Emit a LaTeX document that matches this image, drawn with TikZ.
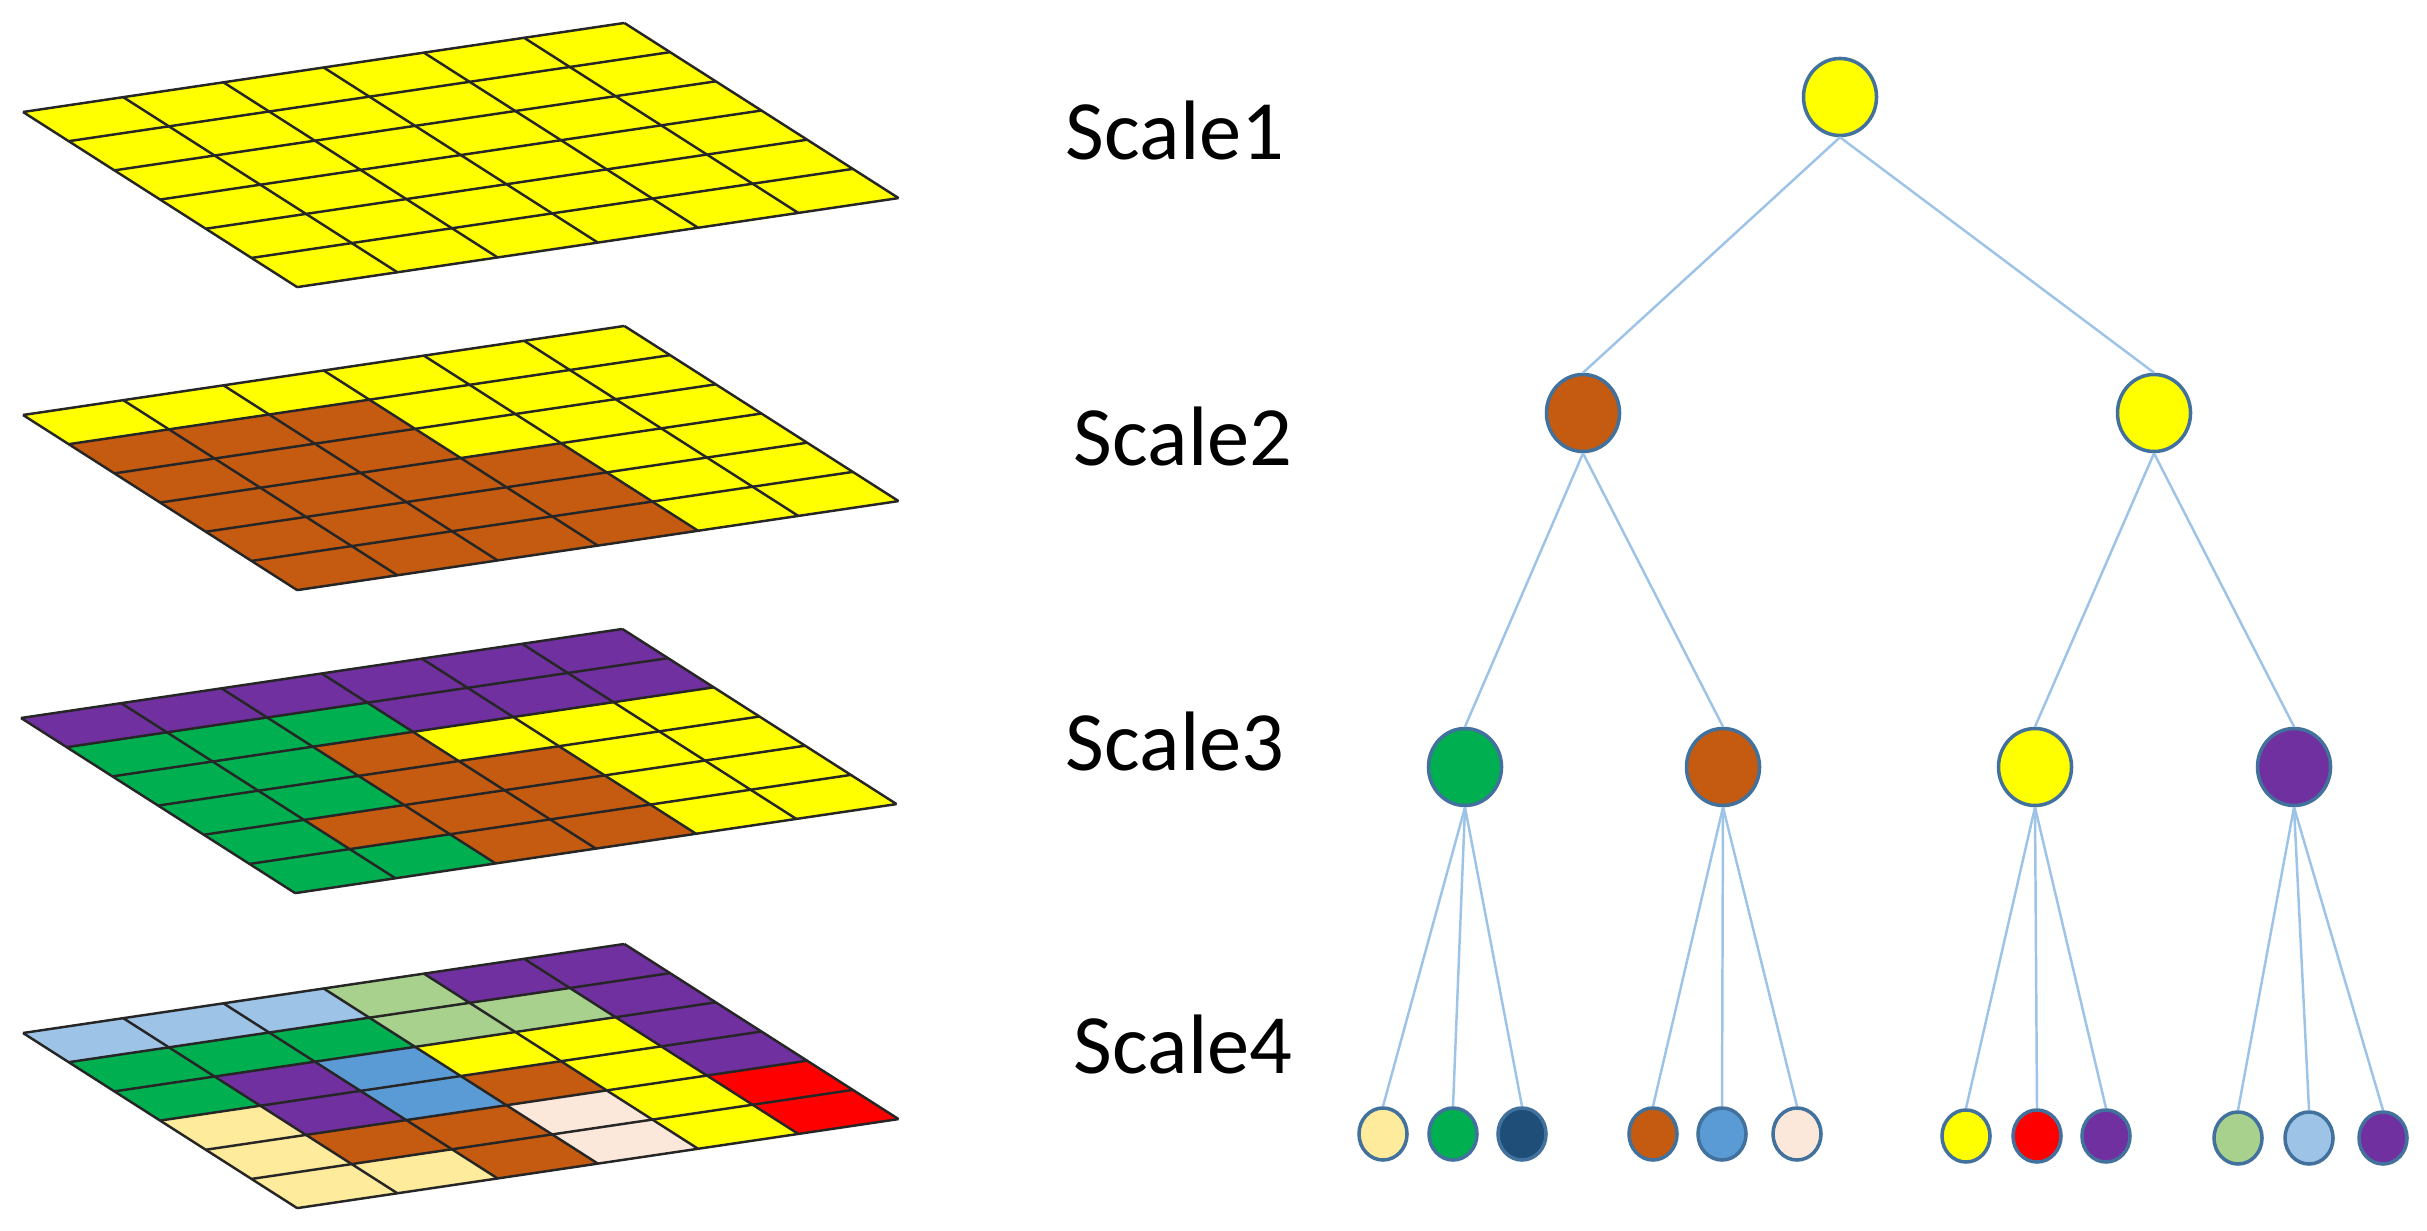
\documentclass[tikz,border=0pt]{standalone}
\usepackage{fontspec}
\setmainfont{Carlito}
\usetikzlibrary{shapes.geometric}

\definecolor{yel}{HTML}{FFFF00}
\definecolor{brn}{HTML}{C55A11}
\definecolor{grn}{HTML}{00B050}
\definecolor{pur}{HTML}{7030A0}
\definecolor{red1}{HTML}{FF0000}
\definecolor{ltblue}{HTML}{9DC3E6}
\definecolor{ltgreen}{HTML}{A9D18E}
\definecolor{midblue}{HTML}{5B9BD5}
\definecolor{dkblue}{HTML}{1F4E79}
\definecolor{cream}{HTML}{FFEB9C}
\definecolor{linen}{HTML}{FCE8DA}
\definecolor{edgeblue}{HTML}{9DC3E6}
\definecolor{rimblue}{HTML}{41719C}

\tikzset{
    cell line/.style = {draw = black!85, line width = 0.7pt},
    link/.style = {draw = edgeblue, line width = 0.7pt},
    bignode/.style = {ellipse, draw = rimblue, line width = 1pt, minimum width = 0.73cm, minimum height = 0.77cm, inner sep = 0pt},
    leafnode/.style = {bignode, minimum width = 0.48cm, minimum height = 0.52cm},
    scalelabel/.style = {anchor = base, font = \fontsize{24}{28}\selectfont}
}

% one slanted 6x6 layer: #1 = left corner, #2 = rows of cell colours
\newcommand\drawlayer[2]{%
    \begin{scope}[shift = {(#1)}, x = {(1.0017cm,0.1483cm)}, y = {(0.4567cm,-0.2917cm)}]
        \foreach \cellrow [count=\j from 0] in {#2} {
            \foreach \cellcol [count=\i from 0] in \cellrow {
                \path[fill = \cellcol] (\i,\j) -- ++(1,0) -- ++(0,1) -- ++(-1,0) -- cycle;
            }
        }
        \foreach \k in {0,...,6} {
            \draw[cell line] (\k,0) -- (\k,6);
            \draw[cell line] (0,\k) -- (6,\k);
        }
    \end{scope}}

\begin{document}
\begin{tikzpicture}[x = 0.01cm, y = -0.01cm]
    \useasboundingbox (0,0) rectangle (2427,1231);

    % layers
    \drawlayer{23,112}{{yel,yel,yel,yel,yel,yel},{yel,yel,yel,yel,yel,yel},{yel,yel,yel,yel,yel,yel},{yel,yel,yel,yel,yel,yel},{yel,yel,yel,yel,yel,yel},{yel,yel,yel,yel,yel,yel}}

    \drawlayer{23,415}{{yel,yel,yel,yel,yel,yel},{brn,brn,brn,yel,yel,yel},{brn,brn,brn,yel,yel,yel},{brn,brn,brn,brn,yel,yel},{brn,brn,brn,brn,yel,yel},{brn,brn,brn,brn,yel,yel}}

    \drawlayer{21,718}{{pur,pur,pur,pur,pur,pur},{grn,grn,grn,pur,pur,pur},{grn,grn,brn,yel,yel,yel},{grn,grn,brn,brn,yel,yel},{grn,brn,brn,brn,yel,yel},{grn,grn,brn,brn,yel,yel}}

    \drawlayer{23,1033}{{ltblue,ltblue,ltblue,ltgreen,pur,pur},{grn,grn,grn,ltgreen,ltgreen,pur},{grn,pur,midblue,yel,yel,pur},{cream,pur,midblue,brn,yel,pur},{cream,brn,brn,linen,yel,red1},{cream,cream,brn,linen,yel,red1}}

    % labels
    \node[scalelabel] (lab1) at (1175,160) {Scale1};
    \node[scalelabel] (lab2) at (1183,466) {Scale2};
    \node[scalelabel] (lab3) at (1175,771) {Scale3};
    \node[scalelabel] (lab4) at (1183,1073) {Scale4};

    % tree
    \node[bignode, fill = yel] (root) at (1840,97) {};

    \node[bignode, fill = brn] (sA) at (1583,413) {};
    \node[bignode, fill = yel] (sB) at (2154,413) {};

    \node[bignode, fill = grn] (tA) at (1465,767) {};
    \node[bignode, fill = brn] (tB) at (1723,767) {};
    \node[bignode, fill = yel] (tC) at (2035,767) {};
    \node[bignode, fill = pur] (tD) at (2294,767) {};

    \node[leafnode, fill = cream] (lA1) at (1383,1134) {};
    \node[leafnode, fill = grn] (lA2) at (1453,1134) {};
    \node[leafnode, fill = dkblue] (lA3) at (1522,1134) {};
    \node[leafnode, fill = brn] (lB1) at (1653,1134) {};
    \node[leafnode, fill = midblue] (lB2) at (1722,1134) {};
    \node[leafnode, fill = linen] (lB3) at (1797,1134) {};
    \node[leafnode, fill = yel] (lC1) at (1966,1136) {};
    \node[leafnode, fill = red1] (lC2) at (2037,1136) {};
    \node[leafnode, fill = pur] (lC3) at (2106,1136) {};
    \node[leafnode, fill = ltgreen] (lD1) at (2238,1138) {};
    \node[leafnode, fill = ltblue] (lD2) at (2309,1138) {};
    \node[leafnode, fill = pur] (lD3) at (2383,1138) {};

    \draw[link] (root.south) -- (sA.north);
    \draw[link] (root.south) -- (sB.north);

    \draw[link] (sA.south) -- (tA.north);
    \draw[link] (sA.south) -- (tB.north);
    \draw[link] (sB.south) -- (tC.north);
    \draw[link] (sB.south) -- (tD.north);

    \foreach \p in {A,B,C,D} {
        \foreach \k in {1,2,3} {
            \draw[link] (t\p.south) -- (l\p\k.north);
        }
    }
\end{tikzpicture}
\end{document}
